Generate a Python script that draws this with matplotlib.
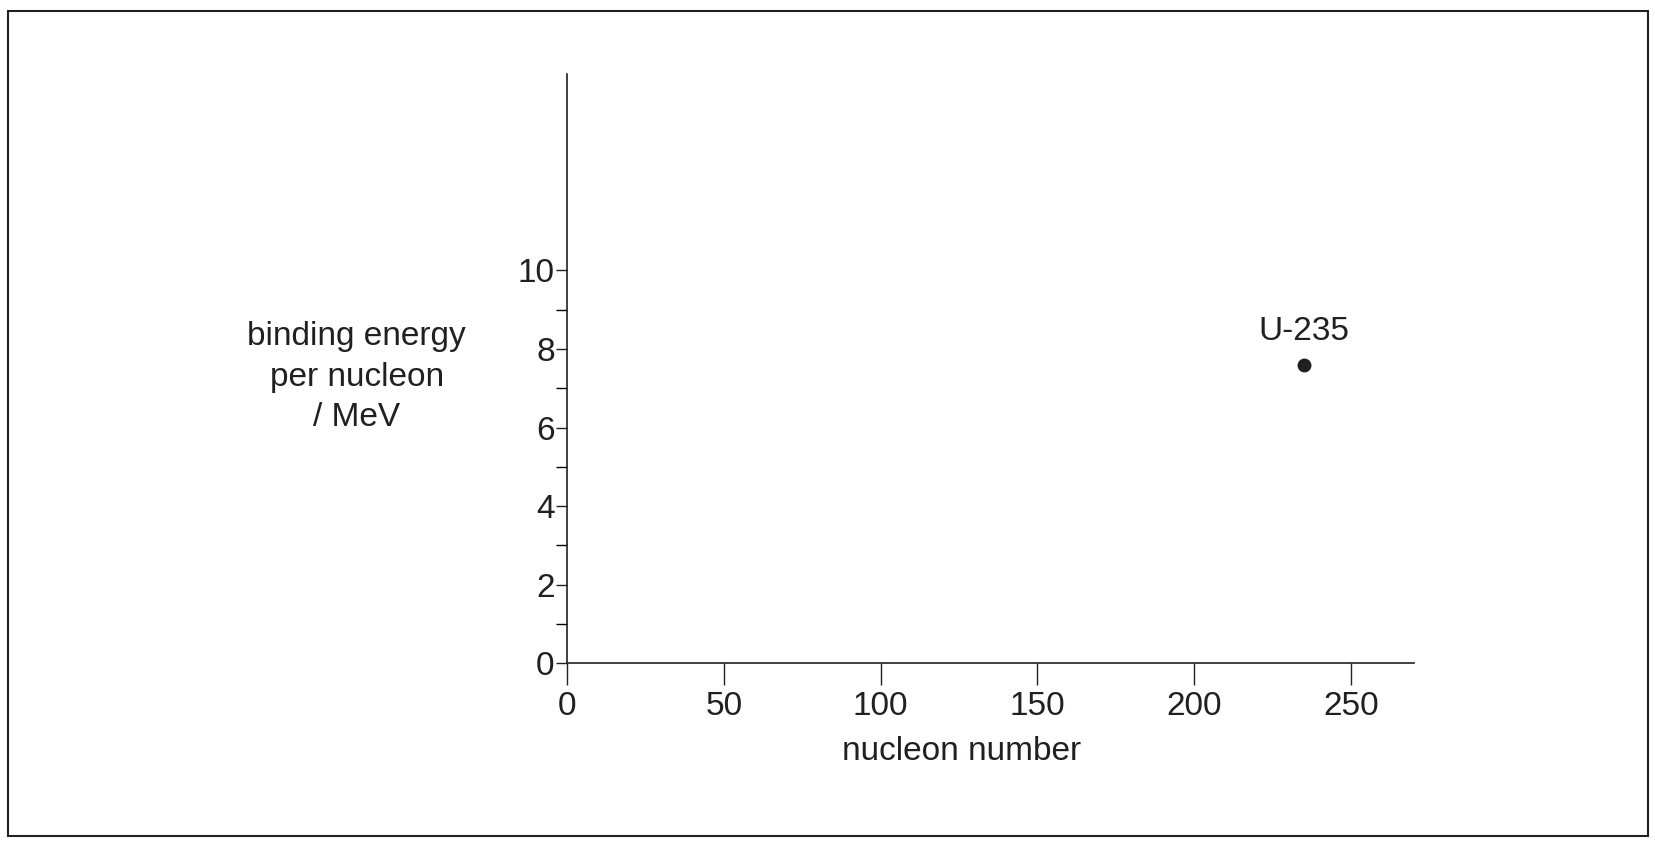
import matplotlib.pyplot as plt
from matplotlib.patches import Rectangle
from matplotlib.ticker import MultipleLocator

plt.rcParams["font.family"] = ["Liberation Sans", "DejaVu Sans"]

nucleon = [235]
energy = [7.6]
label = "U-235"

fig = plt.figure(figsize=(16.56, 8.44), dpi=100)
fig.patches.append(Rectangle((0.005, 0.01), 0.99, 0.9775, transform=fig.transFigure,
                             fill=False, edgecolor="#231f20", linewidth=1.5))

ax = fig.add_axes([0.3425, 0.214, 0.8536 - 0.3425, 0.9125 - 0.214])
ax.plot(nucleon, energy, "o", color="#231f20", markersize=9)
ax.text(nucleon[0], energy[0] + 0.85, label, ha="center", va="center", fontsize=24, color="#231f20")

ax.set_xlim(0, 270)
ax.set_ylim(0, 15)
ax.set_xticks([0, 50, 100, 150, 200, 250])
ax.set_yticks([0, 2, 4, 6, 8, 10])
ax.set_yticks([1, 3, 5, 7, 9], minor=True)
ax.tick_params(axis="x", direction="out", length=16, width=1, labelsize=24, pad=4, colors="#231f20")
ax.tick_params(axis="y", direction="out", length=8, width=1, labelsize=24, pad=1, colors="#231f20")
ax.tick_params(axis="y", which="minor", direction="out", length=8, width=1)
for s in ["top", "right"]:
    ax.spines[s].set_visible(False)
for s in ["left", "bottom"]:
    ax.spines[s].set_color("#231f20")
    ax.spines[s].set_linewidth(1.2)

fig.text(0.2155, 0.553, "binding energy\nper nucleon\n/ MeV", ha="center", va="center",
         fontsize=24, linespacing=1.4, color="#231f20")
fig.text(0.5806, 0.11, "nucleon number", ha="center", va="center", fontsize=24, color="#231f20")

fig.savefig("out.png", dpi=100)
